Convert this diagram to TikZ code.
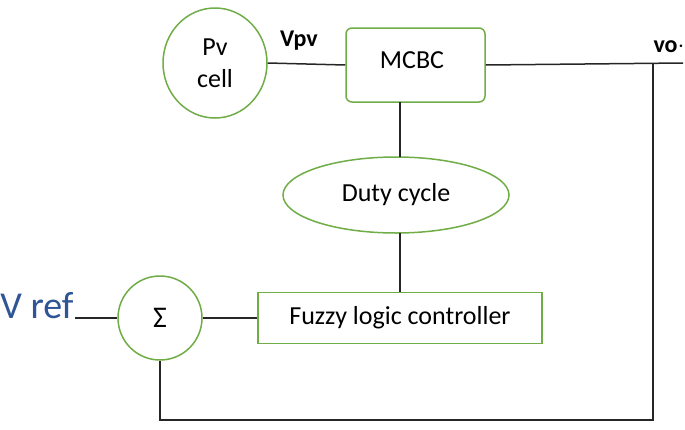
\documentclass[tikz,border=0pt]{standalone}
\usepackage{fontspec}
\setmainfont{Carlito}
\usetikzlibrary{shapes.geometric}
\definecolor{gr}{HTML}{70AD47}
\definecolor{bl}{HTML}{2F5597}
\begin{document}
\begin{tikzpicture}[x=1pt,y=-1pt,
 box/.style={draw=gr,line width=1.5pt,fill=white},
 ln/.style={line width=1.5pt,black!85},
 ft/.style={font=\fontsize{26}{32}\selectfont}]
\useasboundingbox (0,0) rectangle (685,429);
\node[box,ellipse,minimum width=104pt,minimum height=110pt,inner sep=0pt,align=center,ft] (pv) at (215,63) {Pv\\cell};
\node[box,rounded corners=6pt,minimum width=139pt,minimum height=74pt] (mcbc) at (415.5,65) {};
\node[ft] (mt) at (412,60) {MCBC};
\node[box,ellipse,minimum width=226pt,minimum height=76pt,ft] (duty) at (396,195) {Duty cycle};
\node[box,minimum width=284pt,minimum height=51pt,ft] (flc) at (400,318) {Fuzzy logic controller};
\node[box,circle,minimum size=84pt,inner sep=0pt,font=\fontsize{30}{34}\selectfont] (sum) at (160,318) {Σ};
\node[font=\fontsize{24}{28}\selectfont\bfseries] (vpv) at (299,41) {Vpv};
\node[font=\fontsize{24}{28}\selectfont\bfseries,anchor=west] (vo) at (650,47) {vo$\cdot$};
\node[font=\fontsize{38}{44}\selectfont,text=bl] (vref) at (37,306) {V ref};
\coordinate (e) at (683,63);
\coordinate (c1) at (653,64);
\coordinate (c2) at (653,420);
\coordinate (c3) at (160,420);
\coordinate (r) at (75,318);
\draw[ln] (pv.east) -- (mcbc.west);
\draw[ln] (mcbc.east) -- (e);
\draw[ln] (c1) -- (c2) -- (c3) -- (sum.south);
\draw[ln] (400,102) -- (400,157);
\draw[ln] (400,233) -- (400,292);
\draw[ln] (sum.east) -- (flc.west);
\draw[ln] (r) -- (sum.west);
\end{tikzpicture}
\end{document}
